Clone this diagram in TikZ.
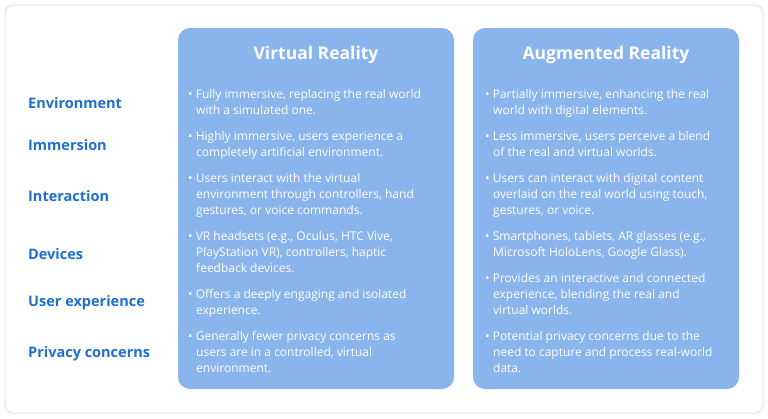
\documentclass[tikz,border=0pt]{standalone}
\usepackage{fontspec}
\setmainfont{Open Sans}
\definecolor{panel}{HTML}{8AB4EC}
\definecolor{lab}{HTML}{1F6FD1}
\definecolor{frame}{HTML}{E2E4E8}
\begin{document}
\begin{tikzpicture}[x=1pt,y=-1pt,
  pan/.style={fill=panel,rounded corners=12pt,draw=none},
  head/.style={text=white,font=\fontsize{17.5}{20}\selectfont\bfseries},
  rowlab/.style={anchor=west,text=lab,font=\fontsize{14.5}{17}\selectfont\bfseries,inner sep=0},
  txt/.style={anchor=north west,text=white,align=left,inner sep=0,font=\fontsize{12}{16}\selectfont}]
\useasboundingbox (0,0) rectangle (768,418);
\draw[frame,rounded corners=8pt,line width=1pt] (5,5) rectangle (763,413);
\path[pan] (178,28) rectangle (454,389);
\path[pan] (473,28) rectangle (739,389);
\node[head] (vr) at (316,55) {Virtual Reality};
\node[head] (ar) at (606,55) {Augmented Reality};
\node[rowlab] (l1) at (28,103) {Environment};
\node[rowlab] (l2) at (28,145) {Immersion};
\node[rowlab] (l3) at (28,196) {Interaction};
\node[rowlab] (l4) at (28,254) {Devices};
\node[rowlab] (l5) at (28,303) {User experience};
\node[rowlab] (l6) at (28,354) {Privacy concerns};
\newcommand\mytxt[4]{\node[txt] (#1) at (#2,#3-6) {\textbullet\ \ignorespaces#4};}
\mytxt{v1}{188}{95}{Fully immersive, replacing the real world\\\hspace*{8pt}with a simulated one.}
\mytxt{v2}{188}{137}{Highly immersive, users experience a\\\hspace*{8pt}completely artificial environment.}
\mytxt{v3}{188}{179}{Users interact with the virtual\\\hspace*{8pt}environment through controllers, hand\\\hspace*{8pt}gestures, or voice commands.}
\mytxt{v4}{188}{237}{VR headsets (e.g., Oculus, HTC Vive,\\\hspace*{8pt}PlayStation VR), controllers, haptic\\\hspace*{8pt}feedback devices.}
\mytxt{v5}{188}{295}{Offers a deeply engaging and isolated\\\hspace*{8pt}experience.}
\mytxt{v6}{188}{337}{Generally fewer privacy concerns as\\\hspace*{8pt}users are in a controlled, virtual\\\hspace*{8pt}environment.}
\mytxt{a1}{485}{95}{Partially immersive, enhancing the real\\\hspace*{8pt}world with digital elements.}
\mytxt{a2}{485}{137}{Less immersive, users perceive a blend\\\hspace*{8pt}of the real and virtual worlds.}
\mytxt{a3}{485}{179}{Users can interact with digital content\\\hspace*{8pt}overlaid on the real world using touch,\\\hspace*{8pt}gestures, or voice.}
\mytxt{a4}{485}{237}{Smartphones, tablets, AR glasses (e.g.,\\\hspace*{8pt}Microsoft HoloLens, Google Glass).}
\mytxt{a5}{485}{279}{Provides an interactive and connected\\\hspace*{8pt}experience, blending the real and\\\hspace*{8pt}virtual worlds.}
\mytxt{a6}{485}{337}{Potential privacy concerns due to the\\\hspace*{8pt}need to capture and process real-world\\\hspace*{8pt}data.}
\end{tikzpicture}
\end{document}
